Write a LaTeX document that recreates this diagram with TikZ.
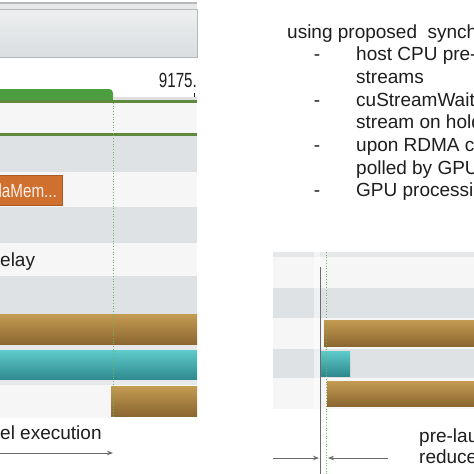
\documentclass[tikz,border=0pt]{standalone}
\usepackage{fontspec}
\setmainfont{Liberation Sans}
\usepackage{xcolor}
\usetikzlibrary{positioning,arrows.meta}

\definecolor{rowlight}{HTML}{F6F6F7}
\definecolor{rowgray}{HTML}{DFE2E5}
\definecolor{stripgray}{HTML}{E6E8EA}
\definecolor{kgreen}{HTML}{4C9E40}
\definecolor{kline}{HTML}{5F8A3E}
\definecolor{korange}{HTML}{D0702E}
\definecolor{browntop}{HTML}{C49B52}
\definecolor{brownbot}{HTML}{8A6630}
\definecolor{tealtop}{HTML}{5FCBCB}
\definecolor{tealbot}{HTML}{2E888D}
\definecolor{hdrtop}{HTML}{EDEFF0}
\definecolor{hdrbot}{HTML}{DADDE0}
\definecolor{hdrline}{HTML}{B6B9BC}
\definecolor{arrowgray}{HTML}{6A6A6A}
\definecolor{inkc}{HTML}{1E1E1E}

\tikzset{
  brownbar/.style={top color=browntop,bottom color=brownbot},
  tealbar/.style={top color=tealtop,bottom color=tealbot},
  gaparrow/.style={arrowgray,line width=0.9pt,-{Stealth[length=6pt,width=4.5pt]}}
}

\begin{document}
\begin{tikzpicture}[x=1pt,y=-1pt,every node/.style={font=\fontsize{19}{22}\selectfont,text=inkc,inner sep=0pt}]
  \useasboundingbox (0,0) rectangle (474,474);
  \clip (0,0) rectangle (474,474);
  \fill[white] (0,0) rectangle (474,474);
  % left timeline: header
  \fill[hdrline] (0,1.5) rectangle (197,3.5);
  \fill[stripgray] (0,3.5) rectangle (197,9);
  \draw[hdrline,top color=hdrtop,bottom color=hdrbot] (-2,9) rectangle (197,57);
  \node[anchor=base east,font=\fontsize{20.5}{22}\selectfont,xscale=0.74] (ts) at (197,87) {9175.};
  \draw[inkc,line width=0.8pt] (194,93)--(194,97);
  % green kernel bar
  \fill[kgreen,rounded corners=4pt] (-6,89) rectangle (113,106);
  \fill[gray!25] (113,97) rectangle (197,100);
  % rows
  \foreach \ya/\yb in {103/133,172/207,243/276} \fill[rowlight] (0,\ya) rectangle (197,\yb);
  \foreach \ya/\yb in {136/172,207/243,276/314} \fill[rowgray] (0,\ya) rectangle (197,\yb);
  \fill[kline] (0,100) rectangle (197,103);
  \fill[kline] (0,133) rectangle (197,136);
  % memcpy box
  \draw[korange!80!black,fill=korange] (-6,175) rectangle (62,205);
  \node[anchor=base east,text=white!90!korange,xscale=0.8] (memcpy) at (57,197) {laMem...};
  \node[anchor=base west] (delay) at (0,266) {elay};
  % bars
  \fill[brownbar] (0,314) rectangle (197,345);
  \fill[stripgray] (0,345) rectangle (197,350);
  \fill[tealbar] (0,350) rectangle (197,380);
  \fill[stripgray] (0,380) rectangle (197,385);
  \fill[rowlight] (0,385) rectangle (111,418);
  \fill[brownbar] (111,386) rectangle (197,416);
  \draw[kgreen!80,dotted,line width=0.7pt] (113,103) -- (113,418);
  % kernel execution
  \node[anchor=base west] (exec) at (0,439) {el execution};
  \coordinate (execL) at (0,453);
  \coordinate (execR) at (113,453);
  \draw[gaparrow] (execL) -- (execR);
  % right text
  \node[anchor=base west] (title) at (287,38) {using proposed\ \ synch};
  \node[anchor=base] (d1) at (317,60.7) {-};
  \node[anchor=base west] (t1) at (356,60.7) {host CPU pre-};
  \node[anchor=base west] (t1b) at (356,83.4) {streams};
  \node[anchor=base] (d2) at (317,106.1) {-};
  \node[anchor=base west] (t2) at (356,106.1) {cuStreamWait};
  \node[anchor=base west] (t2b) at (356,128.8) {stream on hold};
  \node[anchor=base] (d3) at (317,151.5) {-};
  \node[anchor=base west] (t3) at (356,151.5) {upon RDMA c};
  \node[anchor=base west] (t3b) at (356,174.2) {polled by GPU};
  \node[anchor=base] (d4) at (317,196.9) {-};
  \node[anchor=base west] (t4) at (356,196.9) {GPU processi};
  % right timeline
  \fill[stripgray] (273,252) rectangle (474,257);
  \foreach \ya/\yb in {257/288,318/349,378/409} \fill[rowlight] (273,\ya) rectangle (474,\yb);
  \foreach \ya/\yb in {288/318,349/378} \fill[rowgray] (273,\ya) rectangle (474,\yb);
  \fill[white,opacity=0.5] (314,252) rectangle (320,409);
  \fill[brownbar] (324,320) rectangle (474,346);
  \fill[tealbar] (320,351) rectangle (350,376);
  \fill[brownbar] (327,381) rectangle (474,406);
  \draw[arrowgray,line width=1pt] (320.5,267) -- (320.5,474);
  \draw[kgreen!80,dotted,line width=0.7pt] (326.5,252) -- (326.5,474);
  % pre-launch gap
  \coordinate (gapL) at (273,458);
  \coordinate (gapA) at (319,458);
  \coordinate (gapB) at (328,458);
  \coordinate (gapR) at (388,458);
  \draw[gaparrow] (gapL) -- (gapA);
  \draw[gaparrow] (gapR) -- (gapB);
  \node[anchor=base west] (pre) at (419,442) {pre-lau};
  \node[anchor=base west] (red) at (419,463) {reduce};
\end{tikzpicture}
\end{document}
